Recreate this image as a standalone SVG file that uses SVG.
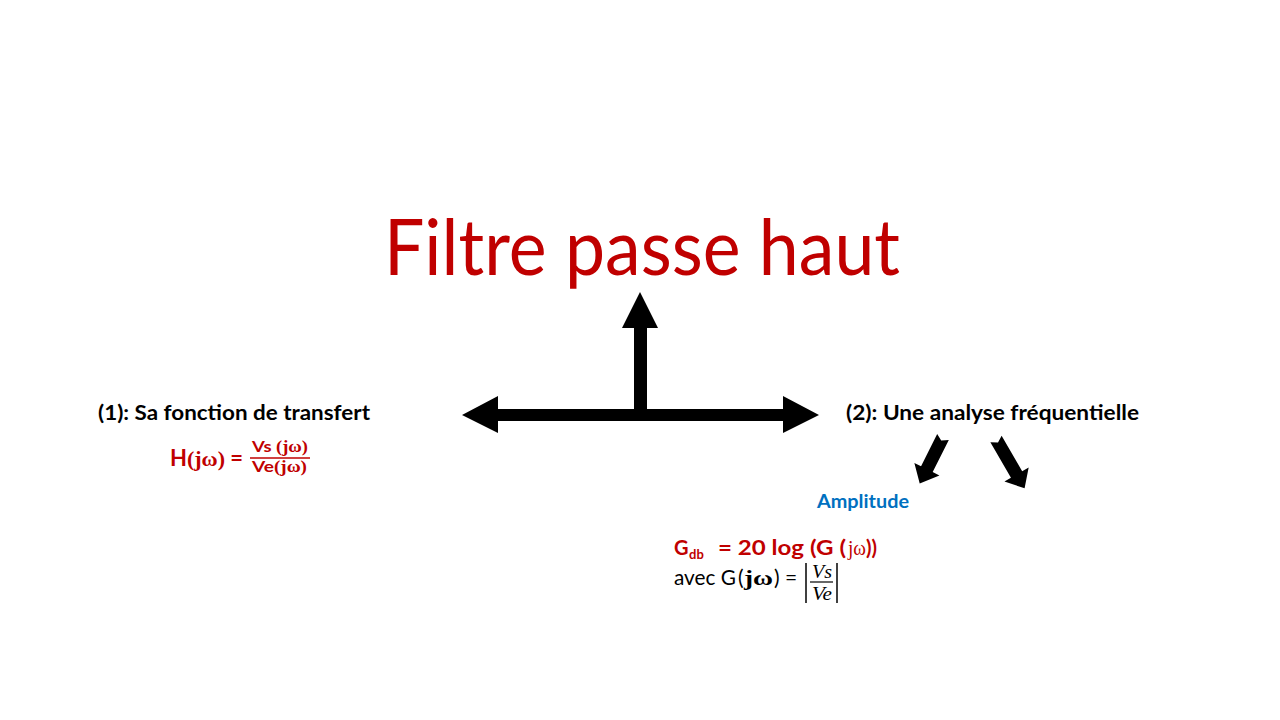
<svg xmlns="http://www.w3.org/2000/svg" width="1280" height="720" viewBox="0 0 1280 720">
<style>
.red{fill:#C00000}
.blk{fill:#000000}
.blue{fill:#0070C0}
.sans{font-family:Lato,"Open Sans","Liberation Sans",sans-serif}
.b{font-weight:bold}
.math{font-family:"Liberation Serif","DejaVu Serif",serif}
.arrow{fill:#000000;stroke:none}
</style>
<rect x="0" y="0" width="1280" height="720" fill="#FFFFFF"/>
<g id="title">
<text class="sans red" x="384" y="275" font-size="78" textLength="516" lengthAdjust="spacingAndGlyphs">Filtre passe haut</text>
</g>
<g id="connectors">
<path class="arrow" d="M462,415 L498,396 L498,409 L634,409 L634,328 L622,328 L640,292 L658,328 L647,328 L647,409 L783,409 L783,396 L819,415 L783,433 L783,421 L498,421 L498,433 Z"/>
<path class="arrow" transform="translate(943,437) rotate(116.6)" d="M0,-6.5 L36,-6.5 L36,-14 L52,0 L36,14 L36,6.5 L0,6.5 L4,0 Z"/>
<path class="arrow" transform="translate(996,439) rotate(59.9)" d="M0,-6.5 L41,-6.5 L41,-14 L57,0 L41,14 L41,6.5 L0,6.5 L4,0 Z"/>
</g>
<g id="node-transfert">
<text class="sans b blk" x="98" y="420" font-size="20" textLength="272" lengthAdjust="spacingAndGlyphs">(1): Sa fonction de transfert</text>
<text class="sans b red" x="170" y="466" font-size="22">H<tspan class="math">(jω)</tspan> =</text>
<text class="sans b red" x="252" y="452" font-size="16" textLength="56" lengthAdjust="spacingAndGlyphs">Vs <tspan class="math">(jω)</tspan></text>
<line x1="250" y1="458" x2="310" y2="458" stroke="#C00000" stroke-width="1.6"/>
<text class="sans b red" x="252" y="472" font-size="16" textLength="55" lengthAdjust="spacingAndGlyphs">Ve<tspan class="math">(jω)</tspan></text>
</g>
<g id="node-analyse">
<text class="sans b blk" x="846" y="420" font-size="20" textLength="293" lengthAdjust="spacingAndGlyphs">(2): Une analyse fréquentielle</text>
</g>
<g id="node-amplitude">
<text class="sans b blue" x="817" y="508" font-size="18" textLength="92" lengthAdjust="spacingAndGlyphs">Amplitude</text>
<text class="sans b red" x="674" y="555" font-size="20">G</text>
<text class="sans b red" x="689" y="559" font-size="13">db</text>
<text class="sans b red" x="718" y="555" font-size="20" textLength="128" lengthAdjust="spacingAndGlyphs">= 20 log (G (</text>
<text class="math red" x="848" y="555" font-size="21" textLength="18" lengthAdjust="spacingAndGlyphs">jω</text>
<text class="sans b red" x="866" y="555" font-size="20" textLength="11" lengthAdjust="spacingAndGlyphs">))</text>
<text class="sans blk" x="674" y="585" font-size="21" textLength="62" lengthAdjust="spacingAndGlyphs">avec G</text>
<text class="sans blk" x="738" y="585" font-size="21">(</text>
<text class="math b blk" x="744" y="585" font-size="21" textLength="29" lengthAdjust="spacingAndGlyphs">jω</text>
<text class="sans blk" x="774" y="585" font-size="21">) =</text>
<line x1="806" y1="563" x2="806" y2="603" stroke="#000" stroke-width="1.5"/>
<line x1="837" y1="563" x2="837" y2="603" stroke="#000" stroke-width="1.5"/>
<line x1="810" y1="582" x2="833" y2="582" stroke="#000" stroke-width="1.2"/>
<text class="math blk" x="812" y="578" font-size="19" font-style="italic" textLength="20" lengthAdjust="spacingAndGlyphs">Vs</text>
<text class="math blk" x="812" y="600" font-size="19" font-style="italic" textLength="20" lengthAdjust="spacingAndGlyphs">Ve</text>
</g>
</svg>
